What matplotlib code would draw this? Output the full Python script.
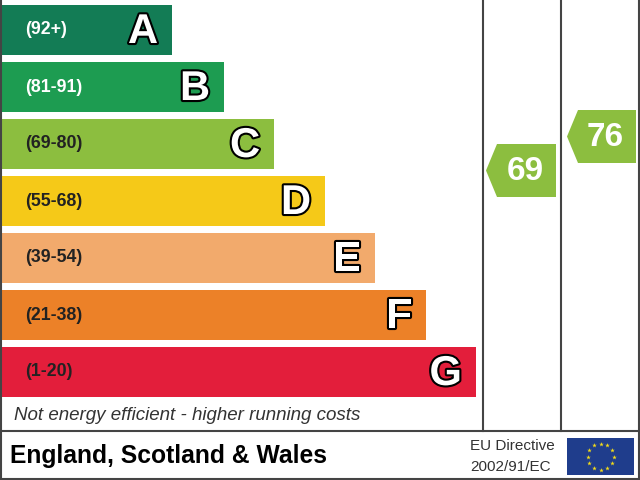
import matplotlib
matplotlib.use("Agg")
import matplotlib.pyplot as plt
import matplotlib.patheffects as pe
from matplotlib.patches import Rectangle, Polygon
import numpy as np

plt.rcParams['font.family'] = ['Liberation Sans', 'DejaVu Sans']

letters = ["A", "B", "C", "D", "E", "F", "G"]
ranges = ["(92+)", "(81-91)", "(69-80)", "(55-68)", "(39-54)", "(21-38)", "(1-20)"]
bar_ends = [172, 224, 274, 325, 375, 426, 476]
colors = ["#137c55", "#1d9c51", "#8cbe3f", "#f5c918", "#f2aa6c", "#ec8128", "#e31e3b"]
label_colors = ["white", "white", "#222222", "#222222", "#222222", "#222222", "#222222"]
current, potential = 69, 76
arrow_color = "#8cbe3f"

fig = plt.figure(figsize=(6.4, 4.8), dpi=100)
ax = fig.add_axes([0, 0, 1, 1])
ax.set_xlim(0, 640); ax.set_ylim(480, 0); ax.axis("off")

for i, (L, r, e, c, lc) in enumerate(zip(letters, ranges, bar_ends, colors, label_colors)):
    y0 = 5 + 57 * i
    ax.add_patch(Rectangle((1, y0), e - 1, 50, color=c, lw=0))
    ax.text(25, y0 + 25, r, color=lc, fontsize=12.8, fontweight="bold", va="center", ha="left")
    t = ax.text(e - 14, y0 + 27, L, color="white", fontsize=30, fontweight="bold", va="center", ha="right")
    t.set_path_effects([pe.Stroke(linewidth=3, foreground="black"), pe.Normal()])

ax.text(14, 415, "Not energy efficient - higher running costs", fontsize=13.5, style="italic",
        color="#333333", va="center")

lc = "#444444"
for x in (483, 561):
    ax.plot([x, x], [0, 431], color=lc, lw=1.5)
ax.plot([0, 640], [431, 431], color=lc, lw=1.5)
ax.plot([1, 1], [0, 480], color=lc, lw=1.5)
ax.plot([639, 639], [0, 480], color=lc, lw=1.5)
ax.plot([0, 640], [479, 479], color=lc, lw=1.5)

def arrow(x0, x1, y0, y1, val):
    ym = (y0 + y1) / 2
    ax.add_patch(Polygon([(x0, ym), (x0 + 11, y0), (x1, y0), (x1, y1), (x0 + 11, y1)],
                         closed=True, color=arrow_color, lw=0))
    ax.text((x0 + 8 + x1) / 2, ym + 1, str(val), color="white", fontsize=24, fontweight="bold",
            ha="center", va="center")

arrow(486, 556, 144, 197, current)
arrow(567, 636, 110, 163, potential)

ax.text(10, 456, "England, Scotland & Wales", fontsize=17.7, fontweight="bold", va="center")
ax.text(470, 446, "EU Directive", fontsize=11, color="#333333", va="center")
ax.text(470, 467, "2002/91/EC", fontsize=11, color="#333333", va="center")
ax.add_patch(Rectangle((567, 438), 67, 37, color="#1f3d8c", lw=0))
ang = np.linspace(0, 2 * np.pi, 13)[:-1]
ax.scatter(600.5 + 13 * np.cos(ang), 456.5 + 13 * np.sin(ang), marker="*", s=12, color="#f5dd17", lw=0)

fig.savefig("out.png", dpi=100)
